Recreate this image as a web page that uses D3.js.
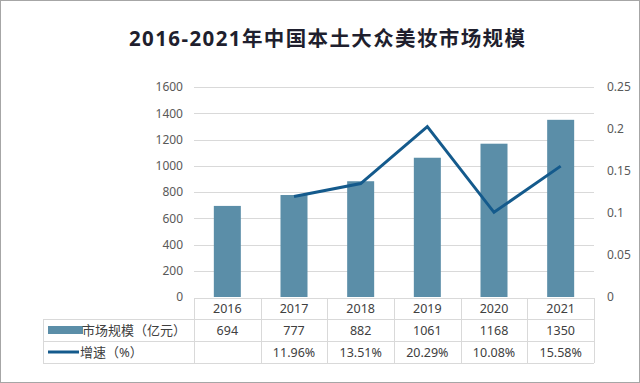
<!DOCTYPE html>
<html><head><meta charset="utf-8">
<script src="https://cdn.jsdelivr.net/npm/d3@7/dist/d3.min.js"></script>
<style>
body{margin:0;background:#fff;}
svg{display:block;}
text{font-family:"Noto Sans","Noto Sans CJK SC",sans-serif;}
</style></head>
<body><svg id="c" width="640" height="383"></svg>
<script>
const title = "2016-2021年中国本土大众美妆市场规模";
const years = ["2016","2017","2018","2019","2020","2021"];
const marketSize = [694, 777, 882, 1061, 1168, 1350];
const growth = [null, 0.1196, 0.1351, 0.2029, 0.1008, 0.1558];
const growthLabels = ["", "11.96%", "13.51%", "20.29%", "10.08%", "15.58%"];
const leftTicks = [0, 200, 400, 600, 800, 1000, 1200, 1400, 1600];
const rightTicks = [0, 0.05, 0.1, 0.15, 0.2, 0.25];
const seriesNames = ["市场规模（亿元）", "增速（%）"];

const barColor = "#5b8ea8", lineColor = "#145a8c", gridColor = "#d9d9d9", txt = "#595959";
const svg = d3.select("#c");
svg.append("rect").attr("x",0.5).attr("y",0.5).attr("width",639).attr("height",382)
  .attr("fill","#fff").attr("stroke","#a6a6a6");

svg.append("text").attr("x",129).attr("y",46).attr("text-anchor","start")
  .attr("font-size",20.5).attr("font-weight","bold").attr("fill","#1f1f2e")
  .attr("textLength",396).attr("lengthAdjust","spacing")
  .attr("font-family","'Noto Sans CJK SC',sans-serif").text(title);

const L=194, R=594, T=87, B=297;
const x = d3.scaleBand().domain(years).range([L,R]).paddingInner(0).paddingOuter(0);
const yL = d3.scaleLinear().domain([0,1600]).range([B,T]);
const yR = d3.scaleLinear().domain([0,0.25]).range([B,T]);

// gridlines
svg.append("g").selectAll("line").data(leftTicks.filter(d=>d>0)).join("line")
  .attr("x1",L).attr("x2",R).attr("y1",d=>Math.round(yL(d))+0.5).attr("y2",d=>Math.round(yL(d))+0.5)
  .attr("stroke",gridColor).attr("stroke-width",1);

// left axis labels
const axL = svg.append("g").attr("transform",`translate(${L-11},0)`)
  .call(d3.axisLeft(yL).tickValues(leftTicks).tickSize(0).tickPadding(0).tickFormat(d3.format("d")));
axL.select(".domain").remove();
axL.selectAll("text").attr("fill",txt).attr("font-size",12).attr("font-family","'Noto Sans',sans-serif");

// right axis labels
const axR = svg.append("g").attr("transform",`translate(${R+13},0)`)
  .call(d3.axisRight(yR).tickValues(rightTicks).tickSize(0).tickPadding(0).tickFormat(d=>String(d)));
axR.select(".domain").remove();
axR.selectAll("text").attr("fill",txt).attr("font-size",12).attr("font-family","'Noto Sans',sans-serif");

// bars
const bw = x.bandwidth()*0.405;
svg.append("g").selectAll("rect").data(years).join("rect")
  .attr("x",(d)=>x(d)+x.bandwidth()/2-bw/2).attr("width",bw)
  .attr("y",(d,i)=>yL(marketSize[i])).attr("height",(d,i)=>B-yL(marketSize[i]))
  .attr("fill",barColor);

// line
const pts = years.map((d,i)=>[x(d)+x.bandwidth()/2, growth[i]]).filter(p=>p[1]!==null);
svg.append("path").datum(pts)
  .attr("d",d3.line().x(p=>p[0]).y(p=>yR(p[1])))
  .attr("fill","none").attr("stroke",lineColor).attr("stroke-width",3).attr("stroke-linejoin","miter");

// data table
const rows = [298, 319, 341, 363];
const LL = 43;
const tg = svg.append("g").attr("stroke",gridColor).attr("stroke-width",1);
tg.append("line").attr("x1",L).attr("x2",R).attr("y1",rows[0]+0.5).attr("y2",rows[0]+0.5);
[1,2,3].forEach(k=>tg.append("line").attr("x1",LL).attr("x2",R).attr("y1",rows[k]+0.5).attr("y2",rows[k]+0.5));
years.forEach(d=>tg.append("line").attr("x1",Math.round(x(d))+0.5).attr("x2",Math.round(x(d))+0.5).attr("y1",rows[0]).attr("y2",rows[3]));
tg.append("line").attr("x1",R+0.5).attr("x2",R+0.5).attr("y1",rows[0]).attr("y2",rows[3]);
tg.append("line").attr("x1",LL+0.5).attr("x2",LL+0.5).attr("y1",rows[1]).attr("y2",rows[3]);

const cellText = (row, vals) => svg.append("g").selectAll("text").data(years).join("text")
  .attr("x",d=>x(d)+x.bandwidth()/2).attr("y",(rows[row]+rows[row+1])/2+4.5)
  .attr("text-anchor","middle").attr("font-size",12.5).attr("fill","#404040")
  .attr("font-family","'Noto Sans',sans-serif").text((d,i)=>vals[i]);
cellText(0, years);
cellText(1, marketSize.map(String));
cellText(2, growthLabels);

// legend keys
svg.append("rect").attr("x",48).attr("y",326).attr("width",35).attr("height",8).attr("fill",barColor);
svg.append("line").attr("x1",48).attr("x2",79).attr("y1",352).attr("y2",352).attr("stroke",lineColor).attr("stroke-width",3);
svg.append("text").attr("x",82).attr("y",335).attr("font-size",13).attr("fill","#404040")
  .attr("font-family","'Noto Sans CJK SC',sans-serif").text(seriesNames[0]);
svg.append("text").attr("x",80).attr("y",357).attr("font-size",13).attr("fill","#404040")
  .attr("font-family","'Noto Sans CJK SC',sans-serif").text(seriesNames[1]);
</script></body></html>
